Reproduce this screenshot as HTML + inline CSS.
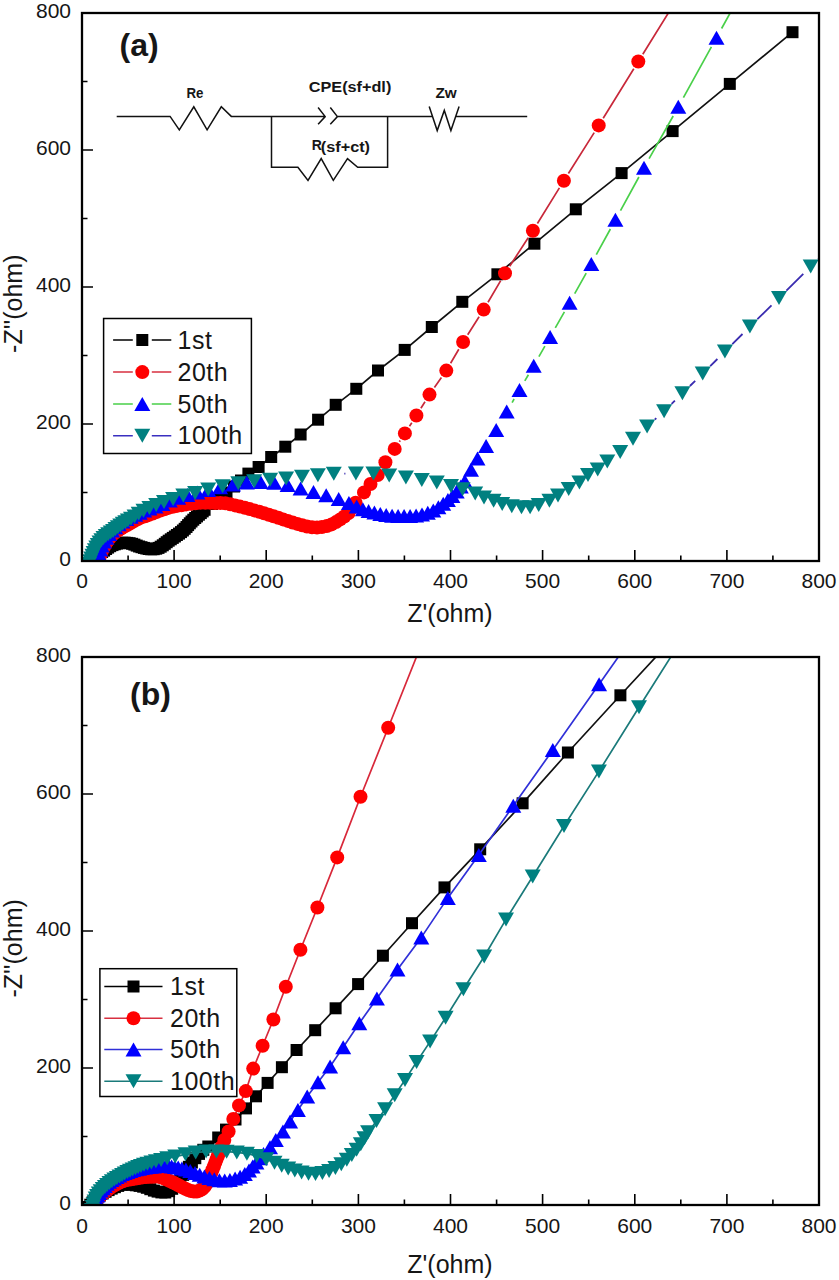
<!DOCTYPE html>
<html><head><meta charset="utf-8"><style>
html,body{margin:0;padding:0;background:#fff;}
body{width:839px;height:1280px;overflow:hidden;}
svg{display:block;font-family:"Liberation Sans", sans-serif;}
</style></head><body>
<svg width="839" height="1280" viewBox="0 0 839 1280">
<rect width="839" height="1280" fill="#fff"/>
<defs><clipPath id="ca"><rect x="82" y="13" width="737" height="548"/></clipPath><clipPath id="cb"><rect x="82" y="657" width="737" height="548"/></clipPath></defs>
<g clip-path="url(#ca)"><path d="M91 562 L92.6 560.1 L94.3 558.2 L96 556.5 L98 554.9 L100 553.4 L102.1 552 L104.1 550.6 L106.1 549 L108.1 547.6 L110.2 546.2 L112.5 545.1 L114.8 544.3 L117.2 543.6 L119.7 543.1 L122.2 542.8 L124.7 542.7 L127.1 542.9 L129.6 543.2 L132.1 543.8 L134.4 544.6 L136.7 545.6 L139.1 546.5 L141.5 547.2 L143.9 547.9 L146.3 548.5 L148.7 549 L151.2 549.3 L153.7 549.2 L156.2 548.7 L158.5 547.9 L160.7 546.7 L162.8 545.3 L164.8 543.8 L166.7 542.2 L168.7 540.7 L170.8 539.3 L172.8 537.9 L174.9 536.5 L176.9 535 L179 533.6 L181 532.1 L182.9 530.5 L184.7 528.8 L186.5 527 L188.1 525.1 L189.8 523.3 L191.5 521.5 L193.3 519.7 L195.2 518 L197 516.4 L198.9 514.7 L200.8 513.1 L202.7 511.4 L204.6 509.8 L212 504 L219 498.5 L226.5 492.5 L234 486.5 L241 480.5 L248.4 473.6 L258.6 467 L271.2 457 L285.3 446.7 L300.6 434.5 L318.1 419.7 L335.7 404.8 L356.3 388.8 L378 370.5 L404.7 349.9 L431.8 327 L462.3 301.8 L497.4 274.3 L534.4 243.7 L575.8 209.3 L621.6 173.1 L672.6 131.1 L729.8 83.9 L792.5 32.2" fill="none" stroke="#111" stroke-width="1.7" stroke-linejoin="round"/><g fill="#000"><rect x="85" y="556" width="12" height="12"/><rect x="86.6" y="554.1" width="12" height="12"/><rect x="88.3" y="552.2" width="12" height="12"/><rect x="90" y="550.5" width="12" height="12"/><rect x="92" y="548.9" width="12" height="12"/><rect x="94" y="547.4" width="12" height="12"/><rect x="96.1" y="546" width="12" height="12"/><rect x="98.1" y="544.6" width="12" height="12"/><rect x="100.1" y="543" width="12" height="12"/><rect x="102.1" y="541.6" width="12" height="12"/><rect x="104.2" y="540.2" width="12" height="12"/><rect x="106.5" y="539.1" width="12" height="12"/><rect x="108.8" y="538.3" width="12" height="12"/><rect x="111.2" y="537.6" width="12" height="12"/><rect x="113.7" y="537.1" width="12" height="12"/><rect x="116.2" y="536.8" width="12" height="12"/><rect x="118.7" y="536.7" width="12" height="12"/><rect x="121.1" y="536.9" width="12" height="12"/><rect x="123.6" y="537.2" width="12" height="12"/><rect x="126.1" y="537.8" width="12" height="12"/><rect x="128.4" y="538.6" width="12" height="12"/><rect x="130.7" y="539.6" width="12" height="12"/><rect x="133.1" y="540.5" width="12" height="12"/><rect x="135.5" y="541.2" width="12" height="12"/><rect x="137.9" y="541.9" width="12" height="12"/><rect x="140.3" y="542.5" width="12" height="12"/><rect x="142.7" y="543" width="12" height="12"/><rect x="145.2" y="543.3" width="12" height="12"/><rect x="147.7" y="543.2" width="12" height="12"/><rect x="150.2" y="542.7" width="12" height="12"/><rect x="152.5" y="541.9" width="12" height="12"/><rect x="154.7" y="540.7" width="12" height="12"/><rect x="156.8" y="539.3" width="12" height="12"/><rect x="158.8" y="537.8" width="12" height="12"/><rect x="160.7" y="536.2" width="12" height="12"/><rect x="162.7" y="534.7" width="12" height="12"/><rect x="164.8" y="533.3" width="12" height="12"/><rect x="166.8" y="531.9" width="12" height="12"/><rect x="168.9" y="530.5" width="12" height="12"/><rect x="170.9" y="529" width="12" height="12"/><rect x="173" y="527.6" width="12" height="12"/><rect x="175" y="526.1" width="12" height="12"/><rect x="176.9" y="524.5" width="12" height="12"/><rect x="178.7" y="522.8" width="12" height="12"/><rect x="180.5" y="521" width="12" height="12"/><rect x="182.1" y="519.1" width="12" height="12"/><rect x="183.8" y="517.3" width="12" height="12"/><rect x="185.5" y="515.5" width="12" height="12"/><rect x="187.3" y="513.7" width="12" height="12"/><rect x="189.2" y="512" width="12" height="12"/><rect x="191" y="510.4" width="12" height="12"/><rect x="192.9" y="508.7" width="12" height="12"/><rect x="194.8" y="507.1" width="12" height="12"/><rect x="196.7" y="505.4" width="12" height="12"/><rect x="198.6" y="503.8" width="12" height="12"/><rect x="206" y="498" width="12" height="12"/><rect x="213" y="492.5" width="12" height="12"/><rect x="220.5" y="486.5" width="12" height="12"/><rect x="228" y="480.5" width="12" height="12"/><rect x="235" y="474.5" width="12" height="12"/><rect x="242.4" y="467.6" width="12" height="12"/><rect x="252.6" y="461" width="12" height="12"/><rect x="265.2" y="451" width="12" height="12"/><rect x="279.3" y="440.7" width="12" height="12"/><rect x="294.6" y="428.5" width="12" height="12"/><rect x="312.1" y="413.7" width="12" height="12"/><rect x="329.7" y="398.8" width="12" height="12"/><rect x="350.3" y="382.8" width="12" height="12"/><rect x="372" y="364.5" width="12" height="12"/><rect x="398.7" y="343.9" width="12" height="12"/><rect x="425.8" y="321" width="12" height="12"/><rect x="456.3" y="295.8" width="12" height="12"/><rect x="491.4" y="268.3" width="12" height="12"/><rect x="528.4" y="237.7" width="12" height="12"/><rect x="569.8" y="203.3" width="12" height="12"/><rect x="615.6" y="167.1" width="12" height="12"/><rect x="666.6" y="125.1" width="12" height="12"/><rect x="723.8" y="77.9" width="12" height="12"/><rect x="786.5" y="26.2" width="12" height="12"/></g></g>
<g clip-path="url(#ca)"><path d="M399.4 441.8L400.2 440.5M409.5 426.2L411.8 422.7M420.9 408.3L425 401.8M434.4 387.6L441.4 377.6M450.6 363.3L458.8 349.3M467.7 334.8L479.1 316.8M488 302.3L500.7 280.6M509.7 266.2L528.2 237.8M537.4 223.5L559.4 187.9M568.4 173.5L594.2 132.6M603.2 118.2L633.8 68.7M642.8 54.3L677.5 -1.8" fill="none" stroke="#c8283a" stroke-width="1.7" stroke-linejoin="round"/><g fill="#ff0000"><circle cx="98" cy="561" r="7"/><circle cx="99.4" cy="557.6" r="7"/><circle cx="100.8" cy="554.2" r="7"/><circle cx="102.2" cy="550.8" r="7"/><circle cx="103.7" cy="547.5" r="7"/><circle cx="105.5" cy="544.3" r="7"/><circle cx="107.5" cy="541.1" r="7"/><circle cx="109.6" cy="538.1" r="7"/><circle cx="112" cy="535.3" r="7"/><circle cx="114.9" cy="532.8" r="7"/><circle cx="117.9" cy="530.6" r="7"/><circle cx="121.1" cy="528.5" r="7"/><circle cx="124.4" cy="526.6" r="7"/><circle cx="127.7" cy="524.7" r="7"/><circle cx="131.1" cy="522.9" r="7"/><circle cx="134.5" cy="520.9" r="7"/><circle cx="137.9" cy="519.1" r="7"/><circle cx="141.4" cy="517.4" r="7"/><circle cx="145.2" cy="516.2" r="7"/><circle cx="148.9" cy="514.9" r="7"/><circle cx="152.7" cy="513.5" r="7"/><circle cx="156.4" cy="512" r="7"/><circle cx="160.3" cy="510.6" r="7"/><circle cx="164.3" cy="509.2" r="7"/><circle cx="168.3" cy="507.9" r="7"/><circle cx="172.6" cy="506.8" r="7"/><circle cx="176.9" cy="505.9" r="7"/><circle cx="181.4" cy="505.2" r="7"/><circle cx="186" cy="504.4" r="7"/><circle cx="190.7" cy="503.8" r="7"/><circle cx="195.4" cy="503.2" r="7"/><circle cx="200.3" cy="502.8" r="7"/><circle cx="205.3" cy="502.7" r="7"/><circle cx="210.3" cy="502.8" r="7"/><circle cx="215.3" cy="502.9" r="7"/><circle cx="220.3" cy="503" r="7"/><circle cx="225.3" cy="503.3" r="7"/><circle cx="230.2" cy="504.2" r="7"/><circle cx="235.1" cy="505.4" r="7"/><circle cx="239.9" cy="506.6" r="7"/><circle cx="244.8" cy="507.8" r="7"/><circle cx="249.6" cy="509.1" r="7"/><circle cx="254.4" cy="510.4" r="7"/><circle cx="259.3" cy="511.8" r="7"/><circle cx="264.1" cy="513.2" r="7"/><circle cx="268.8" cy="514.7" r="7"/><circle cx="273.6" cy="516.2" r="7"/><circle cx="278.3" cy="517.8" r="7"/><circle cx="283.1" cy="519.4" r="7"/><circle cx="287.8" cy="520.9" r="7"/><circle cx="292.6" cy="522.5" r="7"/><circle cx="297.4" cy="523.9" r="7"/><circle cx="302.2" cy="525.2" r="7"/><circle cx="307" cy="526.5" r="7"/><circle cx="312" cy="527.3" r="7"/><circle cx="317" cy="527.5" r="7"/><circle cx="321.9" cy="527.1" r="7"/><circle cx="326.8" cy="526.1" r="7"/><circle cx="331.5" cy="524.4" r="7"/><circle cx="336" cy="522.1" r="7"/><circle cx="340.2" cy="519.4" r="7"/><circle cx="344.3" cy="516.5" r="7"/><circle cx="348.6" cy="513" r="7"/><circle cx="351.9" cy="508.1" r="7"/><circle cx="355.6" cy="502.8" r="7"/><circle cx="364" cy="492.4" r="7"/><circle cx="370.5" cy="484" r="7"/><circle cx="377.7" cy="475.1" r="7"/><circle cx="385.4" cy="462.2" r="7"/><circle cx="394.7" cy="448.9" r="7"/><circle cx="404.9" cy="433.4" r="7"/><circle cx="416.4" cy="415.5" r="7"/><circle cx="429.5" cy="394.6" r="7"/><circle cx="446.3" cy="370.6" r="7"/><circle cx="463.1" cy="342" r="7"/><circle cx="483.7" cy="309.6" r="7"/><circle cx="505" cy="273.3" r="7"/><circle cx="532.9" cy="230.7" r="7"/><circle cx="563.9" cy="180.7" r="7"/><circle cx="598.7" cy="125.4" r="7"/><circle cx="638.3" cy="61.5" r="7"/><circle cx="682" cy="-9" r="7"/></g></g>
<g clip-path="url(#ca)"><path d="M512.1 402.6L514.1 399M524.8 380.9L528.4 374.8M538.9 356.6L544.9 346.1M555.3 327.9L564.4 311.9M574.7 293.6L586.2 273.1M596.3 254.7L610.4 229M620.5 210.6L638.9 177M649.1 158.6L673.2 116M683.4 97.6L711.4 46.9M721.6 28.5L754.9 -31.8" fill="none" stroke="#4ad04a" stroke-width="1.7" stroke-linejoin="round"/><g fill="#0000ff"><path d="M96 555L104 569H88Z"/><path d="M97.4 550.8L105.4 564.8H89.4Z"/><path d="M98.8 546.7L106.8 560.7H90.8Z"/><path d="M100.2 542.5L108.2 556.5H92.2Z"/><path d="M101.8 538.4L109.8 552.4H93.8Z"/><path d="M103.9 534.5L111.9 548.5H95.9Z"/><path d="M106.4 530.7L114.4 544.7H98.4Z"/><path d="M109.1 527.1L117.1 541.1H101.1Z"/><path d="M112 523.6L120 537.6H104Z"/><path d="M115.2 520.3L123.2 534.3H107.2Z"/><path d="M118.7 517.2L126.7 531.2H110.7Z"/><path d="M122.4 514.4L130.4 528.4H114.4Z"/><path d="M126.4 511.9L134.4 525.9H118.4Z"/><path d="M130.7 509.7L138.7 523.7H122.7Z"/><path d="M135.2 507.7L143.2 521.7H127.2Z"/><path d="M139.7 505.7L147.7 519.7H131.7Z"/><path d="M144.2 503.6L152.2 517.6H136.2Z"/><path d="M149.4 501.4L157.4 515.4H141.4Z"/><path d="M155.5 499.5L163.5 513.5H147.5Z"/><path d="M162.4 497L170.4 511H154.4Z"/><path d="M169.8 493.4L177.8 507.4H161.8Z"/><path d="M178.2 490.7L186.2 504.7H170.2Z"/><path d="M187.4 488.1L195.4 502.1H179.4Z"/><path d="M197.4 485.5L205.4 499.5H189.4Z"/><path d="M208.3 482.9L216.3 496.9H200.3Z"/><path d="M220.1 480.2L228.1 494.2H212.1Z"/><path d="M233 477.6L241 491.6H225Z"/><path d="M246.8 475.5L254.8 489.5H238.8Z"/><path d="M260.6 475L268.6 489H252.6Z"/><path d="M274.3 475.8L282.3 489.8H266.3Z"/><path d="M287.6 478L295.6 492H279.6Z"/><path d="M300.6 481.5L308.6 495.5H292.6Z"/><path d="M313.5 484.9L321.5 498.9H305.5Z"/><path d="M326.2 488.3L334.2 502.3H318.2Z"/><path d="M338.7 492.1L346.7 506.1H330.7Z"/><path d="M348.9 495.9L356.9 509.9H340.9Z"/><path d="M356.7 499.6L364.7 513.6H348.7Z"/><path d="M362.9 502.3L370.9 516.3H354.9Z"/><path d="M368.6 504.1L376.6 518.1H360.6Z"/><path d="M374.4 505.6L382.4 519.6H366.4Z"/><path d="M380.3 506.9L388.3 520.9H372.3Z"/><path d="M386.2 508L394.2 522H378.2Z"/><path d="M392.1 508.7L400.1 522.7H384.1Z"/><path d="M398.1 509.1L406.1 523.1H390.1Z"/><path d="M404.1 509.1L412.1 523.1H396.1Z"/><path d="M410.1 508.9L418.1 522.9H402.1Z"/><path d="M416.1 508.4L424.1 522.4H408.1Z"/><path d="M422 507.4L430 521.4H414Z"/><path d="M427.8 505.8L435.8 519.8H419.8Z"/><path d="M433.3 503.4L441.3 517.4H425.3Z"/><path d="M438.4 500.2L446.4 514.2H430.4Z"/><path d="M443.2 496.7L451.2 510.7H435.2Z"/><path d="M447.9 493L455.9 507H439.9Z"/><path d="M452.4 489L460.4 503H444.4Z"/><path d="M456.7 484.5L464.7 498.5H448.7Z"/><path d="M460.8 479.6L468.8 493.6H452.8Z"/><path d="M464.8 474.2L472.8 488.2H456.8Z"/><path d="M471 462.7L479 476.7H463Z"/><path d="M477.5 451.4L485.5 465.4H469.5Z"/><path d="M486.1 439.1L494.1 453.1H478.1Z"/><path d="M496.2 423L504.2 437H488.2Z"/><path d="M506.7 404.6L514.7 418.6H498.7Z"/><path d="M519.5 383L527.5 397H511.5Z"/><path d="M533.7 358.7L541.7 372.7H525.7Z"/><path d="M550.1 330L558.1 344H542.1Z"/><path d="M569.6 295.8L577.6 309.8H561.6Z"/><path d="M591.3 256.9L599.3 270.9H583.3Z"/><path d="M615.4 212.8L623.4 226.8H607.4Z"/><path d="M644 160.8L652 174.8H636Z"/><path d="M678.3 99.8L686.3 113.8H670.3Z"/><path d="M716.5 30.7L724.5 44.7H708.5Z"/><path d="M760 -48L768 -34H752Z"/></g></g>
<g clip-path="url(#ca)"><path d="M344.3 473.6L345.4 473.6M654.9 419.5L656.3 418.2M671.6 403.9L674.9 400.6M689.9 386L695.2 380.9M710.2 366.2L717.4 359M732.3 344.2L742.5 334M757.4 319.2L771.5 305.4M786.4 290.6L803.3 273.9M818.2 259.1L837.5 239.9" fill="none" stroke="#3a2cb0" stroke-width="1.8" stroke-linejoin="round"/><g fill="#008080"><path d="M81 557H97L89 571Z"/><path d="M82.1 554.2H98.1L90.1 568.2Z"/><path d="M83.2 551.4H99.2L91.2 565.4Z"/><path d="M84.4 548.7H100.4L92.4 562.7Z"/><path d="M85.6 545.9H101.6L93.6 559.9Z"/><path d="M86.9 543.2H102.9L94.9 557.2Z"/><path d="M88.3 540.6H104.3L96.3 554.6Z"/><path d="M89.8 538H105.8L97.8 552Z"/><path d="M91.5 535.5H107.5L99.5 549.5Z"/><path d="M93.4 533.2H109.4L101.4 547.2Z"/><path d="M95.5 531H111.5L103.5 545Z"/><path d="M97.8 529.1H113.8L105.8 543.1Z"/><path d="M100.2 527.3H116.2L108.2 541.3Z"/><path d="M102.7 525.6H118.7L110.7 539.6Z"/><path d="M105.1 523.9H121.1L113.1 537.9Z"/><path d="M107.5 522.1H123.5L115.5 536.1Z"/><path d="M109.9 520.3H125.9L117.9 534.3Z"/><path d="M112.3 518.5H128.3L120.3 532.5Z"/><path d="M114.8 516.8H130.8L122.8 530.8Z"/><path d="M117.3 515.2H133.3L125.3 529.2Z"/><path d="M119.9 513.6H135.9L127.9 527.6Z"/><path d="M123 511.7H139L131 525.7Z"/><path d="M126.6 509.6H142.6L134.6 523.6Z"/><path d="M130.7 506.8H146.7L138.7 520.8Z"/><path d="M135.5 503.7H151.5L143.5 517.7Z"/><path d="M141.4 500.9H157.4L149.4 514.9Z"/><path d="M148.2 497.9H164.2L156.2 511.9Z"/><path d="M156 494.9H172L164 508.9Z"/><path d="M165.1 492H181.1L173.1 506Z"/><path d="M175.3 488.5H191.3L183.3 502.5Z"/><path d="M187.1 485.9H203.1L195.1 499.9Z"/><path d="M200.2 482.6H216.2L208.2 496.6Z"/><path d="M214.6 479.2H230.6L222.6 493.2Z"/><path d="M230.3 476.3H246.3L238.3 490.3Z"/><path d="M246.2 474.2H262.2L254.2 488.2Z"/><path d="M262.1 472.8H278.1L270.1 486.8Z"/><path d="M278.1 471.4H294.1L286.1 485.4Z"/><path d="M294 469.8H310L302 483.8Z"/><path d="M309.9 468.2H325.9L317.9 482.2Z"/><path d="M325.8 466.7H341.8L333.8 480.7Z"/><path d="M347.9 466.4H363.9L355.9 480.4Z"/><path d="M365.4 466.4H381.4L373.4 480.4Z"/><path d="M381.2 468.5H397.2L389.2 482.5Z"/><path d="M397.9 470.5H413.9L405.9 484.5Z"/><path d="M413.8 473H429.8L421.8 487Z"/><path d="M428.8 475.5H444.8L436.8 489.5Z"/><path d="M443 478.9H459L451 492.9Z"/><path d="M454.6 482.2H470.6L462.6 496.2Z"/><path d="M467.2 486.4H483.2L475.2 500.4Z"/><path d="M476 490.6H492L484 504.6Z"/><path d="M485.6 493.8H501.6L493.6 507.8Z"/><path d="M494.2 497H510.2L502.2 511Z"/><path d="M503.8 499.2H519.8L511.8 513.2Z"/><path d="M513.5 500.3H529.5L521.5 514.3Z"/><path d="M522.1 500.3H538.1L530.1 514.3Z"/><path d="M530.7 498.1H546.7L538.7 512.1Z"/><path d="M541.4 493.8H557.4L549.4 507.8Z"/><path d="M550 488.5H566L558 502.5Z"/><path d="M560.7 482H576.7L568.7 496Z"/><path d="M571.4 475.6H587.4L579.4 489.6Z"/><path d="M580 468.1H596L588 482.1Z"/><path d="M589.7 462.6H605.7L597.7 476.6Z"/><path d="M599.3 454.6H615.3L607.3 468.6Z"/><path d="M612.2 444.9H628.2L620.2 458.9Z"/><path d="M625 431.8H641L633 445.8Z"/><path d="M639.1 419.5H655.1L647.1 433.5Z"/><path d="M656.1 404.2H672.1L664.1 418.2Z"/><path d="M674.4 386.3H690.4L682.4 400.3Z"/><path d="M694.7 366.6H710.7L702.7 380.6Z"/><path d="M716.9 344.6H732.9L724.9 358.6Z"/><path d="M741.9 319.6H757.9L749.9 333.6Z"/><path d="M771 291H787L779 305Z"/><path d="M802.7 259.5H818.7L810.7 273.5Z"/><path d="M837 225.5H853L845 239.5Z"/></g></g>
<path d="M128.1 561V555.5M174.1 561V550M220.2 561V555.5M266.2 561V550M312.3 561V555.5M358.4 561V550M404.4 561V555.5M450.5 561V550M496.6 561V555.5M542.6 561V550M588.7 561V555.5M634.8 561V550M680.8 561V555.5M726.9 561V550M772.9 561V555.5M82 492.5H87.5M82 424H93M82 355.5H87.5M82 287H93M82 218.5H87.5M82 150H93M82 81.5H87.5" stroke="#000" stroke-width="1.6" fill="none"/><rect x="82" y="13" width="737" height="548" fill="none" stroke="#000" stroke-width="2.3"/><g font-size="21" fill="#161616"><text x="82" y="588" text-anchor="middle">0</text><text x="174.1" y="588" text-anchor="middle">100</text><text x="266.2" y="588" text-anchor="middle">200</text><text x="358.4" y="588" text-anchor="middle">300</text><text x="450.5" y="588" text-anchor="middle">400</text><text x="542.6" y="588" text-anchor="middle">500</text><text x="634.8" y="588" text-anchor="middle">600</text><text x="726.9" y="588" text-anchor="middle">700</text><text x="819" y="588" text-anchor="middle">800</text><text x="71" y="566.1" text-anchor="end">0</text><text x="71" y="429.1" text-anchor="end">200</text><text x="71" y="292.1" text-anchor="end">400</text><text x="71" y="155.1" text-anchor="end">600</text><text x="71" y="18.1" text-anchor="end">800</text></g><text x="450" y="621.5" text-anchor="middle" font-size="25" fill="#161616">Z'(ohm)</text><text transform="translate(22.4 303.7) rotate(-90)" text-anchor="middle" font-size="25" fill="#161616">-Z''(ohm)</text>
<path d="M116.7 116.4H170.1L179.3 129.8L193.8 106.8L207.1 129.8L221.3 106.8L231.3 116.4H325.2M318.1 107.5L325.2 116.6L318.1 124.3M330.3 107.5L337.4 116.6L330.3 124.3M337.4 116.6H432.5M271.5 116.6V167.3H297.9L308 180.4L321.2 158.6L333.3 180.4L347.5 158.6L357.7 167.3H387.6V116.6M429.2 106.6L437.2 130.6L444.3 110.4L450.9 130.6L459.1 106.6M455.8 116.4H527.2" fill="none" stroke="#111" stroke-width="1.5" stroke-linejoin="miter"/>
<g font-weight="bold" font-size="14" fill="#161616"><text x="186.5" y="98.2" textLength="17" lengthAdjust="spacingAndGlyphs">Re</text><text x="308.8" y="92.4" textLength="82.5" lengthAdjust="spacingAndGlyphs">CPE(sf+dl)</text><text x="435.5" y="97.8" textLength="21.3" lengthAdjust="spacingAndGlyphs">Zw</text><text x="311.8" y="150">R</text><text x="320.8" y="152.2" textLength="49.2" lengthAdjust="spacingAndGlyphs">(sf+ct)</text></g>
<text x="119.5" y="56" font-size="32" font-weight="bold" fill="#161616">(a)</text>
<rect x="103.6" y="318.5" width="147.8" height="135" fill="#fff" stroke="#000" stroke-width="1.5"/><path d="M113.1 340H132.8M151.8 340H171.3" stroke="#000" stroke-width="1.5"/><g fill="#000"><rect x="136.3" y="334" width="12" height="12"/></g><text x="177.5" y="348.6" font-size="25" fill="#161616" letter-spacing="0.5">1st</text><path d="M113.1 372.1H132.8M151.8 372.1H171.3" stroke="#d83040" stroke-width="1.5"/><g fill="#ff0000"><circle cx="142.3" cy="372.1" r="7"/></g><text x="177.5" y="380.7" font-size="25" fill="#161616" letter-spacing="0.5">20th</text><path d="M113.1 403.9H132.8M151.8 403.9H171.3" stroke="#4ad04a" stroke-width="1.5"/><g fill="#0000ff"><path d="M142.3 396.9L150.3 410.9H134.3Z"/></g><text x="177.5" y="412.5" font-size="25" fill="#161616" letter-spacing="0.5">50th</text><path d="M113.1 435.8H132.8M151.8 435.8H171.3" stroke="#3a30c0" stroke-width="1.5"/><g fill="#008080"><path d="M134.3 428.8H150.3L142.3 442.8Z"/></g><text x="177.5" y="444.4" font-size="25" fill="#161616" letter-spacing="0.5">100th</text>
<g clip-path="url(#cb)"><path d="M88 1207 L90.3 1204.7 L92.6 1202.3 L95 1200 L97.4 1197.7 L100 1195.5 L102.7 1193.5 L105.6 1191.8 L108.6 1190.1 L111.7 1188.6 L114.9 1187.2 L118.2 1185.9 L121.5 1184.8 L125.1 1184.3 L128.7 1184.4 L132.3 1184.8 L135.9 1185.3 L139.6 1185.9 L143.2 1186.7 L146.8 1187.8 L150.3 1189.2 L153.9 1190.6 L157.6 1191.6 L161.4 1192.4 L165.3 1192.5 L169.1 1191.2 L172.2 1188.8 L175 1185.7 L177.6 1182.2 L180.3 1178.6 L183.1 1174.9 L185.9 1170.9 L188.9 1166.8 L191.9 1162.5 L195.3 1158.2 L199 1153.9 L203.3 1149.8 L208.3 1146.5 L218.2 1137.5 L226 1129.6 L235.5 1119.5 L246 1108.4 L256 1096.3 L267.6 1082.9 L281.9 1067.2 L296.6 1050 L315.2 1030.2 L335.6 1008.3 L358.1 984.1 L382.9 955.7 L412 923.2 L444.5 887.4 L480.2 849.3 L522.6 803.3 L567.9 752.5 L620.4 695.3 L678 633" fill="none" stroke="#111" stroke-width="1.7" stroke-linejoin="round"/><g fill="#000"><rect x="82" y="1201" width="12" height="12"/><rect x="84.3" y="1198.7" width="12" height="12"/><rect x="86.6" y="1196.3" width="12" height="12"/><rect x="89" y="1194" width="12" height="12"/><rect x="91.4" y="1191.7" width="12" height="12"/><rect x="94" y="1189.5" width="12" height="12"/><rect x="96.7" y="1187.5" width="12" height="12"/><rect x="99.6" y="1185.8" width="12" height="12"/><rect x="102.6" y="1184.1" width="12" height="12"/><rect x="105.7" y="1182.6" width="12" height="12"/><rect x="108.9" y="1181.2" width="12" height="12"/><rect x="112.2" y="1179.9" width="12" height="12"/><rect x="115.5" y="1178.8" width="12" height="12"/><rect x="119.1" y="1178.3" width="12" height="12"/><rect x="122.7" y="1178.4" width="12" height="12"/><rect x="126.3" y="1178.8" width="12" height="12"/><rect x="129.9" y="1179.3" width="12" height="12"/><rect x="133.6" y="1179.9" width="12" height="12"/><rect x="137.2" y="1180.7" width="12" height="12"/><rect x="140.8" y="1181.8" width="12" height="12"/><rect x="144.3" y="1183.2" width="12" height="12"/><rect x="147.9" y="1184.6" width="12" height="12"/><rect x="151.6" y="1185.6" width="12" height="12"/><rect x="155.4" y="1186.4" width="12" height="12"/><rect x="159.3" y="1186.5" width="12" height="12"/><rect x="163.1" y="1185.2" width="12" height="12"/><rect x="166.2" y="1182.8" width="12" height="12"/><rect x="169" y="1179.7" width="12" height="12"/><rect x="171.6" y="1176.2" width="12" height="12"/><rect x="174.3" y="1172.6" width="12" height="12"/><rect x="177.1" y="1168.9" width="12" height="12"/><rect x="179.9" y="1164.9" width="12" height="12"/><rect x="182.9" y="1160.8" width="12" height="12"/><rect x="185.9" y="1156.5" width="12" height="12"/><rect x="189.3" y="1152.2" width="12" height="12"/><rect x="193" y="1147.9" width="12" height="12"/><rect x="197.3" y="1143.8" width="12" height="12"/><rect x="202.3" y="1140.5" width="12" height="12"/><rect x="212.2" y="1131.5" width="12" height="12"/><rect x="220" y="1123.6" width="12" height="12"/><rect x="229.5" y="1113.5" width="12" height="12"/><rect x="240" y="1102.4" width="12" height="12"/><rect x="250" y="1090.3" width="12" height="12"/><rect x="261.6" y="1076.9" width="12" height="12"/><rect x="275.9" y="1061.2" width="12" height="12"/><rect x="290.6" y="1044" width="12" height="12"/><rect x="309.2" y="1024.2" width="12" height="12"/><rect x="329.6" y="1002.3" width="12" height="12"/><rect x="352.1" y="978.1" width="12" height="12"/><rect x="376.9" y="949.7" width="12" height="12"/><rect x="406" y="917.2" width="12" height="12"/><rect x="438.5" y="881.4" width="12" height="12"/><rect x="474.2" y="843.3" width="12" height="12"/><rect x="516.6" y="797.3" width="12" height="12"/><rect x="561.9" y="746.5" width="12" height="12"/><rect x="614.4" y="689.3" width="12" height="12"/><rect x="672" y="627" width="12" height="12"/></g></g>
<g clip-path="url(#cb)"><path d="M91 1208 L92.6 1205.5 L94.3 1203 L96.1 1200.6 L98.1 1198.4 L100.2 1196.3 L102.4 1194.2 L104.7 1192.2 L107 1190.3 L109.4 1188.5 L111.9 1186.8 L114.5 1185.3 L117.1 1183.8 L119.7 1182.5 L122.5 1181.3 L125.4 1180.4 L128.3 1179.8 L131.3 1179.2 L134.2 1178.7 L137.2 1178.2 L140.1 1177.7 L143.1 1177.3 L146.1 1177 L149.1 1176.8 L152.1 1176.7 L155.1 1176.6 L158.1 1176.5 L161 1177.3 L163.8 1178.4 L166.5 1179.6 L169.3 1180.8 L172 1182 L174.7 1183.3 L177.4 1184.7 L180 1186.1 L182.7 1187.5 L185.4 1188.7 L188.1 1190 L190.9 1191.1 L193.9 1191.6 L196.9 1191.5 L199.7 1190.6 L202.3 1189.1 L204.4 1186.9 L206.2 1184.3 L207.8 1181.5 L209.1 1178.5 L210.3 1175.4 L211.5 1172.3 L212.7 1169.2 L214 1166 L215.3 1162.8 L216.5 1159.5 L217.8 1156.2 L219.1 1153 L220.4 1149.7 L221.5 1147 L224.3 1140 L228.6 1131.5 L233.3 1119 L239 1105.4 L245.8 1091.1 L253.2 1068.6 L262.6 1045.8 L273.4 1019.5 L285.8 986.8 L300.4 949.7 L317.4 907.5 L337.2 857.4 L360.5 796.8 L388.2 727.7 L420 648" fill="none" stroke="#d8283a" stroke-width="1.7" stroke-linejoin="round"/><g fill="#ff0000"><circle cx="91" cy="1208" r="7"/><circle cx="92.6" cy="1205.5" r="7"/><circle cx="94.3" cy="1203" r="7"/><circle cx="96.1" cy="1200.6" r="7"/><circle cx="98.1" cy="1198.4" r="7"/><circle cx="100.2" cy="1196.3" r="7"/><circle cx="102.4" cy="1194.2" r="7"/><circle cx="104.7" cy="1192.2" r="7"/><circle cx="107" cy="1190.3" r="7"/><circle cx="109.4" cy="1188.5" r="7"/><circle cx="111.9" cy="1186.8" r="7"/><circle cx="114.5" cy="1185.3" r="7"/><circle cx="117.1" cy="1183.8" r="7"/><circle cx="119.7" cy="1182.5" r="7"/><circle cx="122.5" cy="1181.3" r="7"/><circle cx="125.4" cy="1180.4" r="7"/><circle cx="128.3" cy="1179.8" r="7"/><circle cx="131.3" cy="1179.2" r="7"/><circle cx="134.2" cy="1178.7" r="7"/><circle cx="137.2" cy="1178.2" r="7"/><circle cx="140.1" cy="1177.7" r="7"/><circle cx="143.1" cy="1177.3" r="7"/><circle cx="146.1" cy="1177" r="7"/><circle cx="149.1" cy="1176.8" r="7"/><circle cx="152.1" cy="1176.7" r="7"/><circle cx="155.1" cy="1176.6" r="7"/><circle cx="158.1" cy="1176.5" r="7"/><circle cx="161" cy="1177.3" r="7"/><circle cx="163.8" cy="1178.4" r="7"/><circle cx="166.5" cy="1179.6" r="7"/><circle cx="169.3" cy="1180.8" r="7"/><circle cx="172" cy="1182" r="7"/><circle cx="174.7" cy="1183.3" r="7"/><circle cx="177.4" cy="1184.7" r="7"/><circle cx="180" cy="1186.1" r="7"/><circle cx="182.7" cy="1187.5" r="7"/><circle cx="185.4" cy="1188.7" r="7"/><circle cx="188.1" cy="1190" r="7"/><circle cx="190.9" cy="1191.1" r="7"/><circle cx="193.9" cy="1191.6" r="7"/><circle cx="196.9" cy="1191.5" r="7"/><circle cx="199.7" cy="1190.6" r="7"/><circle cx="202.3" cy="1189.1" r="7"/><circle cx="204.4" cy="1186.9" r="7"/><circle cx="206.2" cy="1184.3" r="7"/><circle cx="207.8" cy="1181.5" r="7"/><circle cx="209.1" cy="1178.5" r="7"/><circle cx="210.3" cy="1175.4" r="7"/><circle cx="211.5" cy="1172.3" r="7"/><circle cx="212.7" cy="1169.2" r="7"/><circle cx="214" cy="1166" r="7"/><circle cx="215.3" cy="1162.8" r="7"/><circle cx="216.5" cy="1159.5" r="7"/><circle cx="217.8" cy="1156.2" r="7"/><circle cx="219.1" cy="1153" r="7"/><circle cx="220.4" cy="1149.7" r="7"/><circle cx="221.5" cy="1147" r="7"/><circle cx="224.3" cy="1140" r="7"/><circle cx="228.6" cy="1131.5" r="7"/><circle cx="233.3" cy="1119" r="7"/><circle cx="239" cy="1105.4" r="7"/><circle cx="245.8" cy="1091.1" r="7"/><circle cx="253.2" cy="1068.6" r="7"/><circle cx="262.6" cy="1045.8" r="7"/><circle cx="273.4" cy="1019.5" r="7"/><circle cx="285.8" cy="986.8" r="7"/><circle cx="300.4" cy="949.7" r="7"/><circle cx="317.4" cy="907.5" r="7"/><circle cx="337.2" cy="857.4" r="7"/><circle cx="360.5" cy="796.8" r="7"/><circle cx="388.2" cy="727.7" r="7"/><circle cx="420" cy="648" r="7"/></g></g>
<g clip-path="url(#cb)"><path d="M91 1209 L92.1 1206.2 L93.2 1203.4 L94.4 1200.7 L95.8 1198 L97.4 1195.5 L99 1193 L100.8 1190.6 L102.8 1188.3 L104.7 1186 L106.8 1183.8 L109 1181.8 L111.4 1180 L113.9 1178.4 L116.5 1176.9 L119.2 1175.4 L121.8 1174.1 L124.6 1172.9 L127.4 1171.9 L130.3 1170.9 L133.1 1170.1 L136 1169.3 L139 1168.7 L141.9 1168.1 L144.9 1167.6 L147.8 1167.1 L150.8 1166.8 L153.8 1166.4 L156.7 1165.9 L159.7 1165.5 L162.7 1165.4 L165.7 1165.7 L168.7 1166 L171.6 1166.4 L174.8 1167 L178.2 1167.6 L181.9 1168.5 L185.9 1169.6 L190.3 1171.1 L195 1172.9 L199.7 1174.7 L204.4 1176.4 L209.4 1177.9 L214.3 1179.2 L219.4 1180.2 L224.7 1180.6 L229.9 1180 L235.1 1178.6 L240.1 1176.7 L244.8 1174.1 L249 1170.6 L252.7 1166.5 L256.4 1162.5 L260 1158.3 L263.5 1154 L270 1147.3 L275.8 1140.1 L282.9 1131.5 L290.1 1121.5 L297.9 1110.1 L307.2 1096.5 L318 1082.2 L330.1 1066.4 L343.2 1047.2 L359.3 1023.2 L376.9 998.5 L397.5 969.5 L421.3 937.4 L447.8 897.9 L478.8 855 L513.3 805.8 L552.8 750 L599.1 684.2 L650 612" fill="none" stroke="#3030d8" stroke-width="1.7" stroke-linejoin="round"/><g fill="#0000ff"><path d="M91 1202L99 1216H83Z"/><path d="M92.1 1199.2L100.1 1213.2H84.1Z"/><path d="M93.2 1196.4L101.2 1210.4H85.2Z"/><path d="M94.4 1193.7L102.4 1207.7H86.4Z"/><path d="M95.8 1191L103.8 1205H87.8Z"/><path d="M97.4 1188.5L105.4 1202.5H89.4Z"/><path d="M99 1186L107 1200H91Z"/><path d="M100.8 1183.6L108.8 1197.6H92.8Z"/><path d="M102.8 1181.3L110.8 1195.3H94.8Z"/><path d="M104.7 1179L112.7 1193H96.7Z"/><path d="M106.8 1176.8L114.8 1190.8H98.8Z"/><path d="M109 1174.8L117 1188.8H101Z"/><path d="M111.4 1173L119.4 1187H103.4Z"/><path d="M113.9 1171.4L121.9 1185.4H105.9Z"/><path d="M116.5 1169.9L124.5 1183.9H108.5Z"/><path d="M119.2 1168.4L127.2 1182.4H111.2Z"/><path d="M121.8 1167.1L129.8 1181.1H113.8Z"/><path d="M124.6 1165.9L132.6 1179.9H116.6Z"/><path d="M127.4 1164.9L135.4 1178.9H119.4Z"/><path d="M130.3 1163.9L138.3 1177.9H122.3Z"/><path d="M133.1 1163.1L141.1 1177.1H125.1Z"/><path d="M136 1162.3L144 1176.3H128Z"/><path d="M139 1161.7L147 1175.7H131Z"/><path d="M141.9 1161.1L149.9 1175.1H133.9Z"/><path d="M144.9 1160.6L152.9 1174.6H136.9Z"/><path d="M147.8 1160.1L155.8 1174.1H139.8Z"/><path d="M150.8 1159.8L158.8 1173.8H142.8Z"/><path d="M153.8 1159.4L161.8 1173.4H145.8Z"/><path d="M156.7 1158.9L164.7 1172.9H148.7Z"/><path d="M159.7 1158.5L167.7 1172.5H151.7Z"/><path d="M162.7 1158.4L170.7 1172.4H154.7Z"/><path d="M165.7 1158.7L173.7 1172.7H157.7Z"/><path d="M168.7 1159L176.7 1173H160.7Z"/><path d="M171.6 1159.4L179.6 1173.4H163.6Z"/><path d="M174.8 1160L182.8 1174H166.8Z"/><path d="M178.2 1160.6L186.2 1174.6H170.2Z"/><path d="M181.9 1161.5L189.9 1175.5H173.9Z"/><path d="M185.9 1162.6L193.9 1176.6H177.9Z"/><path d="M190.3 1164.1L198.3 1178.1H182.3Z"/><path d="M195 1165.9L203 1179.9H187Z"/><path d="M199.7 1167.7L207.7 1181.7H191.7Z"/><path d="M204.4 1169.4L212.4 1183.4H196.4Z"/><path d="M209.4 1170.9L217.4 1184.9H201.4Z"/><path d="M214.3 1172.2L222.3 1186.2H206.3Z"/><path d="M219.4 1173.2L227.4 1187.2H211.4Z"/><path d="M224.7 1173.6L232.7 1187.6H216.7Z"/><path d="M229.9 1173L237.9 1187H221.9Z"/><path d="M235.1 1171.6L243.1 1185.6H227.1Z"/><path d="M240.1 1169.7L248.1 1183.7H232.1Z"/><path d="M244.8 1167.1L252.8 1181.1H236.8Z"/><path d="M249 1163.6L257 1177.6H241Z"/><path d="M252.7 1159.5L260.7 1173.5H244.7Z"/><path d="M256.4 1155.5L264.4 1169.5H248.4Z"/><path d="M260 1151.3L268 1165.3H252Z"/><path d="M263.5 1147L271.5 1161H255.5Z"/><path d="M270 1140.3L278 1154.3H262Z"/><path d="M275.8 1133.1L283.8 1147.1H267.8Z"/><path d="M282.9 1124.5L290.9 1138.5H274.9Z"/><path d="M290.1 1114.5L298.1 1128.5H282.1Z"/><path d="M297.9 1103.1L305.9 1117.1H289.9Z"/><path d="M307.2 1089.5L315.2 1103.5H299.2Z"/><path d="M318 1075.2L326 1089.2H310Z"/><path d="M330.1 1059.4L338.1 1073.4H322.1Z"/><path d="M343.2 1040.2L351.2 1054.2H335.2Z"/><path d="M359.3 1016.2L367.3 1030.2H351.3Z"/><path d="M376.9 991.5L384.9 1005.5H368.9Z"/><path d="M397.5 962.5L405.5 976.5H389.5Z"/><path d="M421.3 930.4L429.3 944.4H413.3Z"/><path d="M447.8 890.9L455.8 904.9H439.8Z"/><path d="M478.8 848L486.8 862H470.8Z"/><path d="M513.3 798.8L521.3 812.8H505.3Z"/><path d="M552.8 743L560.8 757H544.8Z"/><path d="M599.1 677.2L607.1 691.2H591.1Z"/><path d="M650 605L658 619H642Z"/></g></g>
<g clip-path="url(#cb)"><path d="M92 1210 L92.8 1207.1 L93.6 1204.2 L94.6 1201.4 L95.7 1198.6 L97.1 1195.9 L98.8 1193.5 L100.7 1191.2 L102.8 1189 L104.9 1186.9 L107.1 1184.9 L109.5 1183 L111.9 1181.2 L114.4 1179.6 L116.9 1177.9 L119.5 1176.4 L122.1 1174.9 L124.7 1173.4 L127.4 1172 L130 1170.7 L132.7 1169.4 L135.5 1168.2 L138.2 1167 L141 1165.9 L144 1164.8 L147.4 1163.7 L151.4 1162.5 L155.9 1161.2 L161.1 1159.9 L167.2 1158.3 L175.2 1156.6 L185.5 1154.3 L195.7 1152.5 L206.1 1151.6 L216.4 1151.4 L226.6 1151.7 L236.8 1152.4 L246.9 1153.7 L256.7 1155.9 L266.2 1159.2 L274.5 1162.7 L281.7 1165.8 L288.2 1168.4 L294.8 1170.6 L301.6 1172.4 L308.5 1173.7 L315.5 1173.9 L322.4 1172.9 L329.1 1170.9 L335.4 1168 L341.3 1164.2 L346.8 1159.8 L351.8 1155 L356.6 1149.8 L360.8 1144.3 L364.5 1138.3 L368.1 1132.3 L376.5 1121.1 L385.1 1109.3 L394.7 1095.3 L405 1079.9 L416.6 1062 L430.1 1041.6 L445.6 1017.7 L463.4 989.2 L484.2 956.5 L506 919.4 L532.7 876.5 L564 826 L598.9 771.4 L639 707.2 L684 636" fill="none" stroke="#1a7a7a" stroke-width="1.7" stroke-linejoin="round"/><g fill="#008080"><path d="M84 1203H100L92 1217Z"/><path d="M84.8 1200.1H100.8L92.8 1214.1Z"/><path d="M85.6 1197.2H101.6L93.6 1211.2Z"/><path d="M86.6 1194.4H102.6L94.6 1208.4Z"/><path d="M87.7 1191.6H103.7L95.7 1205.6Z"/><path d="M89.1 1188.9H105.1L97.1 1202.9Z"/><path d="M90.8 1186.5H106.8L98.8 1200.5Z"/><path d="M92.7 1184.2H108.7L100.7 1198.2Z"/><path d="M94.8 1182H110.8L102.8 1196Z"/><path d="M96.9 1179.9H112.9L104.9 1193.9Z"/><path d="M99.1 1177.9H115.1L107.1 1191.9Z"/><path d="M101.5 1176H117.5L109.5 1190Z"/><path d="M103.9 1174.2H119.9L111.9 1188.2Z"/><path d="M106.4 1172.6H122.4L114.4 1186.6Z"/><path d="M108.9 1170.9H124.9L116.9 1184.9Z"/><path d="M111.5 1169.4H127.5L119.5 1183.4Z"/><path d="M114.1 1167.9H130.1L122.1 1181.9Z"/><path d="M116.7 1166.4H132.7L124.7 1180.4Z"/><path d="M119.4 1165H135.4L127.4 1179Z"/><path d="M122 1163.7H138L130 1177.7Z"/><path d="M124.7 1162.4H140.7L132.7 1176.4Z"/><path d="M127.5 1161.2H143.5L135.5 1175.2Z"/><path d="M130.2 1160H146.2L138.2 1174Z"/><path d="M133 1158.9H149L141 1172.9Z"/><path d="M136 1157.8H152L144 1171.8Z"/><path d="M139.4 1156.7H155.4L147.4 1170.7Z"/><path d="M143.4 1155.5H159.4L151.4 1169.5Z"/><path d="M147.9 1154.2H163.9L155.9 1168.2Z"/><path d="M153.1 1152.9H169.1L161.1 1166.9Z"/><path d="M159.2 1151.3H175.2L167.2 1165.3Z"/><path d="M167.2 1149.6H183.2L175.2 1163.6Z"/><path d="M177.5 1147.3H193.5L185.5 1161.3Z"/><path d="M187.7 1145.5H203.7L195.7 1159.5Z"/><path d="M198.1 1144.6H214.1L206.1 1158.6Z"/><path d="M208.4 1144.4H224.4L216.4 1158.4Z"/><path d="M218.6 1144.7H234.6L226.6 1158.7Z"/><path d="M228.8 1145.4H244.8L236.8 1159.4Z"/><path d="M238.9 1146.7H254.9L246.9 1160.7Z"/><path d="M248.7 1148.9H264.7L256.7 1162.9Z"/><path d="M258.2 1152.2H274.2L266.2 1166.2Z"/><path d="M266.5 1155.7H282.5L274.5 1169.7Z"/><path d="M273.7 1158.8H289.7L281.7 1172.8Z"/><path d="M280.2 1161.4H296.2L288.2 1175.4Z"/><path d="M286.8 1163.6H302.8L294.8 1177.6Z"/><path d="M293.6 1165.4H309.6L301.6 1179.4Z"/><path d="M300.5 1166.7H316.5L308.5 1180.7Z"/><path d="M307.5 1166.9H323.5L315.5 1180.9Z"/><path d="M314.4 1165.9H330.4L322.4 1179.9Z"/><path d="M321.1 1163.9H337.1L329.1 1177.9Z"/><path d="M327.4 1161H343.4L335.4 1175Z"/><path d="M333.3 1157.2H349.3L341.3 1171.2Z"/><path d="M338.8 1152.8H354.8L346.8 1166.8Z"/><path d="M343.8 1148H359.8L351.8 1162Z"/><path d="M348.6 1142.8H364.6L356.6 1156.8Z"/><path d="M352.8 1137.3H368.8L360.8 1151.3Z"/><path d="M356.5 1131.3H372.5L364.5 1145.3Z"/><path d="M360.1 1125.3H376.1L368.1 1139.3Z"/><path d="M368.5 1114.1H384.5L376.5 1128.1Z"/><path d="M377.1 1102.3H393.1L385.1 1116.3Z"/><path d="M386.7 1088.3H402.7L394.7 1102.3Z"/><path d="M397 1072.9H413L405 1086.9Z"/><path d="M408.6 1055H424.6L416.6 1069Z"/><path d="M422.1 1034.6H438.1L430.1 1048.6Z"/><path d="M437.6 1010.7H453.6L445.6 1024.7Z"/><path d="M455.4 982.2H471.4L463.4 996.2Z"/><path d="M476.2 949.5H492.2L484.2 963.5Z"/><path d="M498 912.4H514L506 926.4Z"/><path d="M524.7 869.5H540.7L532.7 883.5Z"/><path d="M556 819H572L564 833Z"/><path d="M590.9 764.4H606.9L598.9 778.4Z"/><path d="M631 700.2H647L639 714.2Z"/><path d="M676 629H692L684 643Z"/></g></g>
<path d="M128.1 1205V1199.5M174.1 1205V1194M220.2 1205V1199.5M266.2 1205V1194M312.3 1205V1199.5M358.4 1205V1194M404.4 1205V1199.5M450.5 1205V1194M496.6 1205V1199.5M542.6 1205V1194M588.7 1205V1199.5M634.8 1205V1194M680.8 1205V1199.5M726.9 1205V1194M772.9 1205V1199.5M82 1136.5H87.5M82 1068H93M82 999.5H87.5M82 931H93M82 862.5H87.5M82 794H93M82 725.5H87.5" stroke="#000" stroke-width="1.6" fill="none"/><rect x="82" y="657" width="737" height="548" fill="none" stroke="#000" stroke-width="2.3"/><g font-size="21" fill="#161616"><text x="82" y="1233" text-anchor="middle">0</text><text x="174.1" y="1233" text-anchor="middle">100</text><text x="266.2" y="1233" text-anchor="middle">200</text><text x="358.4" y="1233" text-anchor="middle">300</text><text x="450.5" y="1233" text-anchor="middle">400</text><text x="542.6" y="1233" text-anchor="middle">500</text><text x="634.8" y="1233" text-anchor="middle">600</text><text x="726.9" y="1233" text-anchor="middle">700</text><text x="819" y="1233" text-anchor="middle">800</text><text x="71" y="1210.1" text-anchor="end">0</text><text x="71" y="1073.1" text-anchor="end">200</text><text x="71" y="936.1" text-anchor="end">400</text><text x="71" y="799.1" text-anchor="end">600</text><text x="71" y="662.1" text-anchor="end">800</text></g><text x="450" y="1273" text-anchor="middle" font-size="25" fill="#161616">Z'(ohm)</text><text transform="translate(22.4 948.4) rotate(-90)" text-anchor="middle" font-size="25" fill="#161616">-Z''(ohm)</text>
<text x="130" y="704.7" font-size="32" font-weight="bold" fill="#161616">(b)</text>
<rect x="99.9" y="968.7" width="136.9" height="127.8" fill="#fff" stroke="#000" stroke-width="1.5"/><path d="M104.3 986.5H162.5" stroke="#000" stroke-width="1.5"/><g fill="#000"><rect x="127.5" y="980.5" width="12" height="12"/></g><text x="170" y="995.1" font-size="25" fill="#161616" letter-spacing="0.5">1st</text><path d="M104.3 1018.3H162.5" stroke="#d83040" stroke-width="1.5"/><g fill="#ff0000"><circle cx="133.5" cy="1018.3" r="7"/></g><text x="170" y="1026.9" font-size="25" fill="#161616" letter-spacing="0.5">20th</text><path d="M104.3 1049.4H162.5" stroke="#3030d8" stroke-width="1.5"/><g fill="#0000ff"><path d="M133.5 1042.4L141.5 1056.4H125.5Z"/></g><text x="170" y="1058" font-size="25" fill="#161616" letter-spacing="0.5">50th</text><path d="M104.3 1081.2H162.5" stroke="#1a7a7a" stroke-width="1.5"/><g fill="#008080"><path d="M125.5 1074.2H141.5L133.5 1088.2Z"/></g><text x="170" y="1089.8" font-size="25" fill="#161616" letter-spacing="0.5">100th</text>
</svg>
</body></html>
